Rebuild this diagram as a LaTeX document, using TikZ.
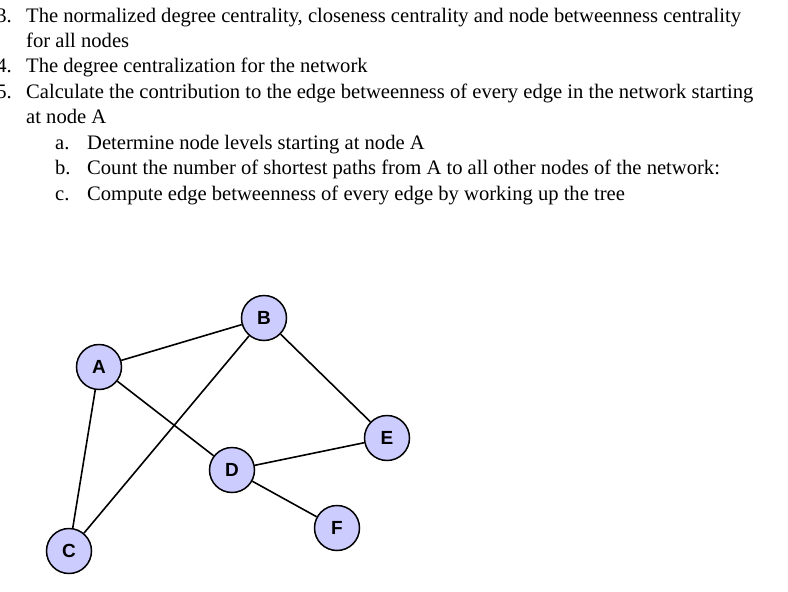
\documentclass[tikz,border=0pt]{standalone}
\usepackage{fontspec}
\setmainfont{Liberation Serif}
\newfontfamily\nodefont{Liberation Sans Bold}
\begin{document}
\begin{tikzpicture}[x=1pt,y=-1pt,
  txt/.style={anchor=base west,inner sep=0pt,font=\fontsize{20.6}{22}\selectfont},
  num/.style={anchor=base east,inner sep=0pt,font=\fontsize{20.6}{22}\selectfont},
  nd/.style={circle,draw=black,line width=1.5pt,fill={rgb,255:red,204;green,204;blue,255},minimum size=45pt,inner sep=0pt,font=\nodefont\fontsize{19}{22}\selectfont},
  ed/.style={line width=1.6pt}]
\useasboundingbox (0,0) rectangle (788,592);
\node[num] (n3) at (12,22) {3.};
\node[txt] (t1) at (26,22) {The normalized degree centrality, closeness centrality and node betweenness centrality};
\node[txt] (t2) at (26,47) {for all nodes};
\node[num] (n4) at (12,72) {4.};
\node[txt] (t3) at (26,72) {The degree centralization for the network};
\node[num] (n5) at (12,98) {5.};
\node[txt] (t4) at (26,98) {Calculate the contribution to the edge betweenness of every edge in the network starting};
\node[txt] (t5) at (26,123) {at node A};
\node[txt] (la) at (55,149) {a.};
\node[txt] (ta) at (87,149) {Determine node levels starting at node A};
\node[txt] (lb) at (55,174) {b.};
\node[txt] (tb) at (87,174) {Count the number of shortest paths from A to all other nodes of the network:};
\node[txt] (lc) at (55,200) {c.};
\node[txt] (tc) at (87,200) {Compute edge betweenness of every edge by working up the tree};
\node[nd] (B) at (264,318) {B};
\node[nd] (A) at (99,367) {A};
\node[nd] (C) at (69,551) {C};
\node[nd] (D) at (232,470) {D};
\node[nd] (E) at (387,438) {E};
\node[nd] (F) at (337,528) {F};
\draw[ed] (A) -- (B);
\draw[ed] (A) -- (D);
\draw[ed] (A) -- (C);
\draw[ed] (C) -- (B);
\draw[ed] (B) -- (E);
\draw[ed] (D) -- (E);
\draw[ed] (D) -- (F);
\end{tikzpicture}
\end{document}
